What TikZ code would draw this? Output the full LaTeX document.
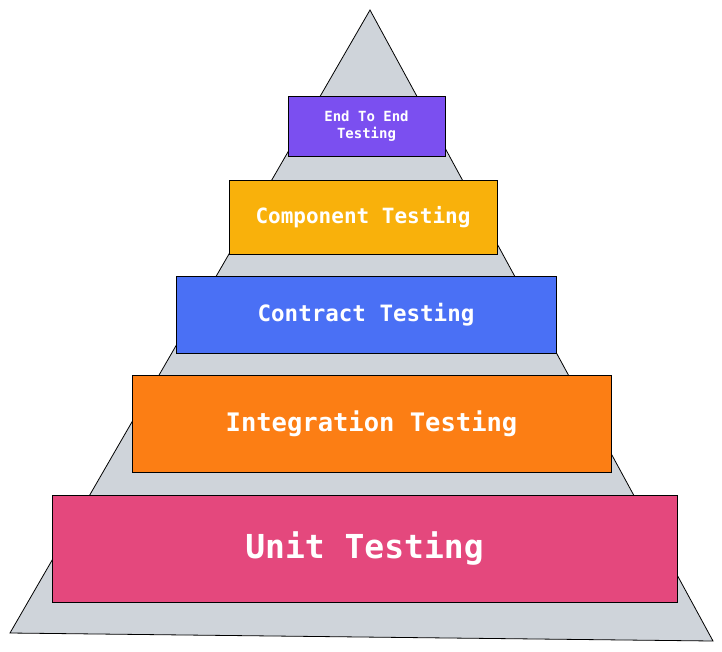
\documentclass[tikz,border=0pt]{standalone}
\usepackage{fontspec}
\setmonofont{DejaVu Sans Mono}
\definecolor{tri}{HTML}{CFD4DA}
\definecolor{cP}{HTML}{7B4FF0}
\definecolor{cY}{HTML}{F9B10B}
\definecolor{cB}{HTML}{4A70F5}
\definecolor{cO}{HTML}{FC7E14}
\definecolor{cR}{HTML}{E4487D}
\begin{document}
\begin{tikzpicture}[x=1pt,y=-1pt,
  lvl/.style={draw=black,line width=0.8pt,inner sep=0pt,text=white,font=\ttfamily\bfseries,align=center}]
\useasboundingbox (0,0) rectangle (722,651);
\draw[fill=tri,line width=0.8pt] (370,10) -- (713,641) -- (10,633) -- cycle;
\node[lvl,fill=cP,minimum width=157pt,minimum height=60pt,font=\ttfamily\bfseries\fontsize{14}{17}\selectfont] (e2e) at (366.5,126) {End To End\\Testing};
\node[lvl,fill=cY,minimum width=268pt,minimum height=74pt,font=\ttfamily\bfseries\fontsize{21}{25}\selectfont] (comp) at (363,217) {Component Testing};
\node[lvl,fill=cB,minimum width=380pt,minimum height=77pt,font=\ttfamily\bfseries\fontsize{22.5}{27}\selectfont] (contract) at (366,314.5) {Contract Testing};
\node[lvl,fill=cO,minimum width=479pt,minimum height=97pt,font=\ttfamily\bfseries\fontsize{25.5}{30}\selectfont] (integ) at (371.5,423.5) {Integration Testing};
\node[lvl,fill=cR,minimum width=625pt,minimum height=107pt,font=\ttfamily\bfseries\fontsize{33}{40}\selectfont] (unit) at (364.5,548.5) {Unit Testing};
\end{tikzpicture}
\end{document}
